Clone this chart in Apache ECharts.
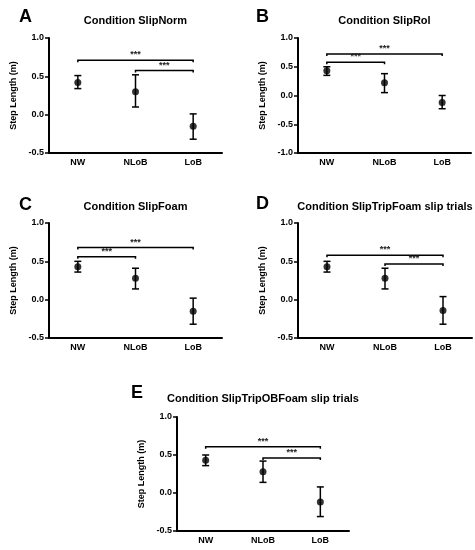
<!DOCTYPE html>
<html>
<head>
<meta charset="utf-8">
<script src="https://cdn.jsdelivr.net/npm/echarts@6/dist/echarts.min.js"></script>
<style>
  html, body { margin: 0; padding: 0; background: #fff; }
  #chart { width: 475px; height: 550px; }
</style>
</head>
<body>
<div id="chart"></div>
<script>
// data (step length, m)
var categories = ['NW', 'NLoB', 'LoB']
var panelLetters = ['A', 'B', 'C', 'D', 'E']
var panelTitles = [
  'Condition SlipNorm',
  'Condition SlipRol',
  'Condition SlipFoam',
  'Condition SlipTripFoam slip trials',
  'Condition SlipTripOBFoam slip trials'
]

var meanA = [0.42, 0.30, -0.15]
var lowA = [0.34, 0.10, -0.32]
var highA = [0.51, 0.52, 0.01]

var meanB = [0.43, 0.22, -0.12]
var lowB = [0.35, 0.05, -0.23]
var highB = [0.50, 0.38, 0.00]

var meanC = [0.43, 0.28, -0.15]
var lowC = [0.36, 0.14, -0.32]
var highC = [0.50, 0.41, 0.02]

var meanD = [0.43, 0.28, -0.14]
var lowD = [0.36, 0.14, -0.32]
var highD = [0.50, 0.41, 0.04]

var meanE = [0.43, 0.28, -0.12]
var lowE = [0.36, 0.14, -0.31]
var highE = [0.50, 0.42, 0.08]

// significance brackets: [from category, to category, height]
var sigA = [[0, 2, 0.71], [1, 2, 0.575]]
var sigB = [[0, 2, 0.72], [0, 1, 0.58]]
var sigC = [[0, 2, 0.68], [0, 1, 0.56]]
var sigD = [[0, 2, 0.58], [1, 2, 0.465]]
var sigE = [[0, 2, 0.61], [1, 2, 0.46]]

// y axis ranges and tick labels
var yMins = [-0.5, -1.0, -0.5, -0.5, -0.5]
var yMaxs = [1.0, 1.0, 1.0, 1.0, 1.0]
var yStep = 0.5

var means = [meanA, meanB, meanC, meanD, meanE]
var lows = [lowA, lowB, lowC, lowD, lowE]
var highs = [highA, highB, highC, highD, highE]
var sigs = [sigA, sigB, sigC, sigD, sigE]

var FONT = '"Liberation Sans", Arial, sans-serif'

var grids = [
  { left: 49, top: 38, width: 173, height: 115 },
  { left: 298, top: 38, width: 173, height: 115 },
  { left: 49, top: 223, width: 173, height: 115 },
  { left: 298, top: 223, width: 174, height: 115 },
  { left: 177, top: 417, width: 172, height: 114 }
]
var titleY = [21, 21, 207, 207, 399]
var letterPos = [[19, 17], [256, 17], [19, 205], [256, 204], [131, 393]]

var chart = echarts.init(document.getElementById('chart'), null, { renderer: 'canvas' })

var xAxes = [], yAxes = [], series = [], graphics = []

grids.forEach(function (g, i) {
  xAxes.push({
    type: 'category',
    gridIndex: i,
    data: categories,
    boundaryGap: true,
    axisLine: { onZero: false, lineStyle: { color: '#000', width: 2 } },
    axisTick: { alignWithLabel: true, length: 3, lineStyle: { color: '#000', width: 1.5 } },
    axisLabel: { color: '#000', fontFamily: FONT, fontWeight: 'bold', fontSize: 9, margin: 5 },
    splitLine: { show: false }
  })
  yAxes.push({
    type: 'value',
    gridIndex: i,
    min: yMins[i],
    max: yMaxs[i],
    interval: yStep,
    name: 'Step Length (m)',
    nameLocation: 'middle',
    nameRotate: 90,
    nameGap: 31,
    nameTextStyle: { color: '#000', fontFamily: FONT, fontWeight: 'bold', fontSize: 9 },
    axisLine: { show: true, onZero: false, lineStyle: { color: '#000', width: 2 } },
    axisTick: { show: true, length: 4, lineStyle: { color: '#000', width: 1.5 } },
    axisLabel: {
      color: '#000', fontFamily: FONT, fontWeight: 'bold', fontSize: 9, margin: 5,
      formatter: function (v) { return v.toFixed(1) }
    },
    splitLine: { show: false }
  })

  // error bars
  series.push({
    type: 'custom',
    xAxisIndex: i,
    yAxisIndex: i,
    data: categories.map(function (c, k) { return [k, lows[i][k], highs[i][k]] }),
    renderItem: function (params, api) {
      var lo = api.coord([api.value(0), api.value(1)])
      var hi = api.coord([api.value(0), api.value(2)])
      var cap = 3.5
      var st = { stroke: '#000', lineWidth: 1.5 }
      return {
        type: 'group',
        children: [
          { type: 'line', shape: { x1: lo[0], y1: lo[1], x2: hi[0], y2: hi[1] }, style: st },
          { type: 'line', shape: { x1: lo[0] - cap, y1: lo[1], x2: lo[0] + cap, y2: lo[1] }, style: st },
          { type: 'line', shape: { x1: hi[0] - cap, y1: hi[1], x2: hi[0] + cap, y2: hi[1] }, style: st }
        ]
      }
    },
    z: 2
  })

  // mean points
  series.push({
    type: 'scatter',
    xAxisIndex: i,
    yAxisIndex: i,
    data: means[i],
    symbol: 'circle',
    symbolSize: 7,
    itemStyle: { color: '#000' },
    z: 3
  })

  // significance brackets
  series.push({
    type: 'custom',
    xAxisIndex: i,
    yAxisIndex: i,
    data: sigs[i],
    renderItem: function (params, api) {
      var a = api.coord([api.value(0), api.value(2)])
      var b = api.coord([api.value(1), api.value(2)])
      var t = 2
      return {
        type: 'group',
        children: [
          {
            type: 'polyline',
            shape: { points: [[a[0], a[1] + t], [a[0], a[1]], [b[0], b[1]], [b[0], b[1] + t]] },
            style: { stroke: '#000', lineWidth: 1.5, fill: null }
          },
          {
            type: 'text',
            x: (a[0] + b[0]) / 2,
            y: a[1] - 1,
            style: {
              text: '***', fill: '#222', font: 'bold 9px ' + FONT,
              align: 'center', verticalAlign: 'bottom'
            }
          }
        ]
      }
    },
    z: 2
  })

  graphics.push({
    type: 'text',
    x: g.left + g.width / 2,
    y: titleY[i],
    style: {
      text: panelTitles[i], fill: '#000', font: 'bold 11px ' + FONT,
      align: 'center', verticalAlign: 'middle'
    }
  })
  graphics.push({
    type: 'text',
    x: letterPos[i][0],
    y: letterPos[i][1],
    style: {
      text: panelLetters[i], fill: '#000', font: 'bold 18px ' + FONT,
      align: 'left', verticalAlign: 'middle'
    }
  })
})

chart.setOption({
  backgroundColor: '#fff',
  animation: false,
  grid: grids,
  xAxis: xAxes,
  yAxis: yAxes,
  series: series,
  graphic: graphics
})
</script>
</body>
</html>
